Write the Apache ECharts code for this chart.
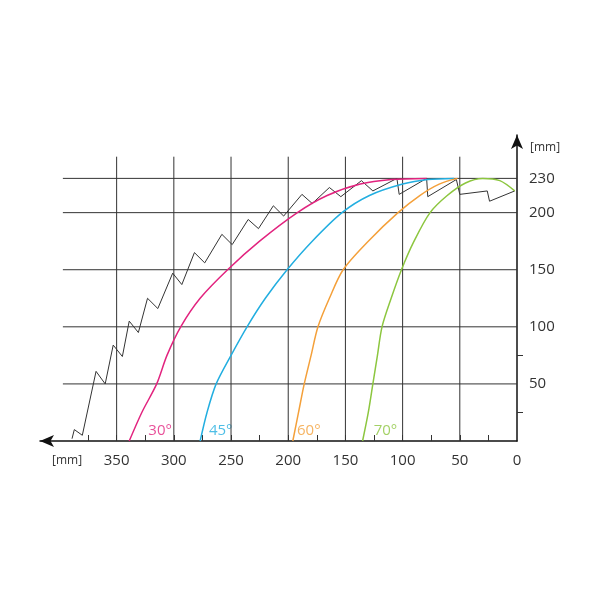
<!DOCTYPE html><html><head><meta charset="utf-8">
<script src="https://cdn.jsdelivr.net/npm/echarts@6/dist/echarts.min.js"></script>
<style>html,body{margin:0;background:#fff}#c{width:600px;height:600px}</style></head><body><div id="c"></div>
<script>
const xTicks=[50,100,150,200,250,300,350];
const yTicks=[50,100,150,200,230];
const yMinor=[25,75];
const curve30=[[339,0],[328,25],[315,50],[306,75],[294,100],[277,125],[253,150],[225,175],[192,200],[166,215],[137,225],[110,229],[79,230]];
const curve45=[[277,0],[271,25],[263,50],[250,75],[236,100],[220,125],[201,150],[179,175],[153,200],[129,215],[100,225],[78,229],[55,230]];
const curve60=[[196,0],[191,25],[186,50],[180,75],[174,100],[164,125],[152,150],[130,175],[104,200],[85,215],[68,225],[52,230]];
const curve70=[[135,0],[130,25],[126,50],[122,75],[118,100],[110,125],[101,150],[90,175],[76,200],[61,215],[45,226],[30,230],[15,228],[2,219]];
const blade=[[389,2],[387,10],[380,5],[368,61],[360,50],[353,84],[345,74],[339,105],[331,95],[323,125],[314,116],[301,147],[293,137],[282,165],[273,156],[258,181],[249,172],[235,194],[226,186],[213,206],[204,197],[188,216],[179,208],[164,222],[154,214],[136,228],[126,219],[105,230],[103,216],[79,230],[78,214],[53,229],[50,216],[26,219],[24,210],[2,219]];
const angleLabels=[{t:'30°',x:312,y:9,c:'#e2247f'},{t:'45°',x:259,y:9,c:'#22aee0'},{t:'60°',x:182,y:9,c:'#f4a03a'},{t:'70°',x:115,y:9,c:'#8cc63f'}];
const font='"Open Sans", sans-serif';
const series=[];
xTicks.forEach(v=>series.push({type:'line',data:[[v,0],[v,249]],symbol:'none',silent:true,lineStyle:{color:'#333',width:1}}));
yTicks.forEach(v=>series.push({type:'line',data:[[0,v],[397,v]],symbol:'none',silent:true,lineStyle:{color:'#333',width:1}}));
series.push({type:'line',data:blade,symbol:'none',lineStyle:{color:'#333',width:1}});
[[curve30,'#e2247f'],[curve45,'#22aee0'],[curve60,'#f4a03a'],[curve70,'#8cc63f']].forEach(([d,c])=>series.push({type:'line',data:d,smooth:0.3,symbol:'none',lineStyle:{color:c,width:1.5}}));
series.push({type:'scatter',symbolSize:0,data:angleLabels.map(a=>({value:[a.x,a.y],label:{show:true,formatter:a.t,color:a.c,fontSize:15,fontFamily:font,position:'inside'}}))});
const chart=echarts.init(document.getElementById('c'),null,{renderer:'canvas'});
chart.setOption({animation:false,
grid:{left:40,right:83,top:135,bottom:159},
xAxis:{type:'value',inverse:true,min:0,max:417,splitLine:{show:false},
 axisLine:{lineStyle:{color:'#111',width:1.5},symbol:['arrow','none'],symbolSize:[9,14]},
 axisTick:{customValues:[25,50,75,100,125,150,175,200,225,250,275,300,325,350,375],inside:true,length:6,lineStyle:{color:'#333'}},
 axisLabel:{customValues:[0,...xTicks],fontSize:15,color:'#333',fontFamily:font,margin:12}},
yAxis:{type:'value',position:'right',min:0,max:268,splitLine:{show:false},
 axisLine:{onZero:false,lineStyle:{color:'#111',width:1.5},symbol:['none','arrow'],symbolSize:[9,14]},
 axisTick:{customValues:[...yMinor],length:6,lineStyle:{color:'#333'}},
 axisLabel:{customValues:yTicks,fontSize:15,color:'#333',fontFamily:font,margin:12}},
graphic:[{type:'text',left:530,top:142,style:{text:'[mm]',fontSize:12,fill:'#333',fontFamily:font}},
 {type:'text',left:52,top:455,style:{text:'[mm]',fontSize:12,fill:'#333',fontFamily:font}}],
series});
</script></body></html>
